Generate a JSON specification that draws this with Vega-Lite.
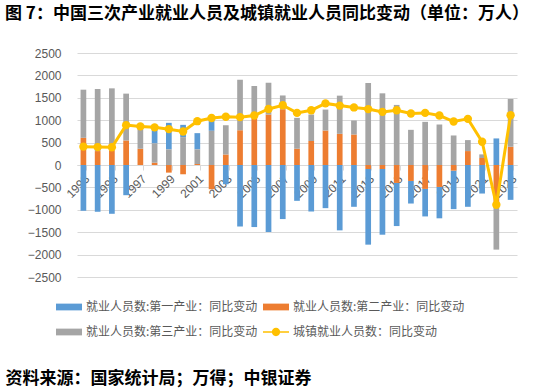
{
  "$schema": "https://vega.github.io/schema/vega-lite/v6.json",
  "background": "white",
  "padding": {"left": 5, "top": 5, "right": 5, "bottom": 5},
  "title": {"text": "图 7：中国三次产业就业人员及城镇就业人员同比变动（单位：万人）", "anchor": "start", "fontSize": 17, "fontWeight": "bold", "font": "Noto Sans CJK SC", "color": "#000000", "offset": 24},
  "width": 440,
  "height": 224,
  "datasets": {
    "emp": [
      {"year": 1993, "就业人员数:第一产业：同比变动": -1022, "就业人员数:第二产业：同比变动": 607, "就业人员数:第三产业：同比变动": 1074, "城镇就业人员数：同比变动": 410},
      {"year": 1994, "就业人员数:第一产业：同比变动": -1044, "就业人员数:第二产业：同比变动": 311, "就业人员数:第三产业：同比变动": 1385, "城镇就业人员数：同比变动": 400},
      {"year": 1995, "就业人员数:第一产业：同比变动": -1089, "就业人员数:第二产业：同比变动": 320, "就业人员数:第三产业：同比变动": 1391, "城镇就业人员数：同比变动": 397},
      {"year": 1996, "就业人员数:第一产业：同比变动": -674, "就业人员数:第二产业：同比变动": 548, "就业人员数:第三产业：同比变动": 1045, "城镇就业人员数：同比变动": 890},
      {"year": 1997, "就业人员数:第一产业：同比变动": 15, "就业人员数:第二产业：同比变动": 363, "就业人员数:第三产业：同比变动": 452, "城镇就业人员数：同比变动": 862},
      {"year": 1998, "就业人员数:第一产业：同比变动": 348, "就业人员数:第二产业：同比变动": 52, "就业人员数:第三产业：同比变动": 430, "城镇就业人员数：同比变动": 840},
      {"year": 1999, "就业人员数:第一产业：同比变动": 593, "就业人员数:第二产业：同比变动": -170, "就业人员数:第三产业：同比变动": 348, "城镇就业人员数：同比变动": 800},
      {"year": 2000, "就业人员数:第一产业：同比变动": 274, "就业人员数:第二产业：同比变动": -207, "就业人员数:第三产业：同比变动": 622, "城镇就业人员数：同比变动": 748},
      {"year": 2001, "就业人员数:第一产业：同比变动": 363, "就业人员数:第二产业：同比变动": 22, "就业人员数:第三产业：同比变动": 326, "城镇就业人员数：同比变动": 978},
      {"year": 2002, "就业人员数:第一产业：同比变动": 237, "就业人员数:第二产业：同比变动": -541, "就业人员数:第三产业：同比变动": 763, "城镇就业人员数：同比变动": 1050},
      {"year": 2003, "就业人员数:第一产业：同比变动": -430, "就业人员数:第二产业：同比变动": 237, "就业人员数:第三产业：同比变动": 652, "城镇就业人员数：同比变动": 1078},
      {"year": 2004, "就业人员数:第一产业：同比变动": -1370, "就业人员数:第二产业：同比变动": 778, "就业人员数:第三产业：同比变动": 1126, "城镇就业人员数：同比变动": 1068},
      {"year": 2005, "就业人员数:第一产业：同比变动": -1385, "就业人员数:第二产业：同比变动": 1030, "就业人员数:第三产业：同比变动": 733, "城镇就业人员数：同比变动": 1105},
      {"year": 2006, "就业人员数:第一产业：同比变动": -1496, "就业人员数:第二产业：同比变动": 1126, "就业人员数:第三产业：同比变动": 711, "城镇就业人员数：同比变动": 1250},
      {"year": 2007, "就业人员数:第一产业：同比变动": -1207, "就业人员数:第二产业：同比变动": 1245, "就业人员数:第三产业：同比变动": 307, "城镇就业人员数：同比变动": 1333},
      {"year": 2008, "就业人员数:第一产业：同比变动": -800, "就业人员数:第二产业：同比变动": 363, "就业人员数:第三产业：同比变动": 689, "城镇就业人员数：同比变动": 1163},
      {"year": 2009, "就业人员数:第一产业：同比变动": -1037, "就业人员数:第二产业：同比变动": 533, "就业人员数:第三产业：同比变动": 593, "城镇就业人员数：同比变动": 1222},
      {"year": 2010, "就业人员数:第一产业：同比变动": -963, "就业人员数:第二产业：同比变动": 770, "就业人员数:第三产业：同比变动": 467, "城镇就业人员数：同比变动": 1375},
      {"year": 2011, "就业人员数:第一产业：同比变动": -1459, "就业人员数:第二产业：同比变动": 696, "就业人员数:第三产业：同比变动": 852, "城镇就业人员数：同比变动": 1326},
      {"year": 2012, "就业人员数:第一产业：同比变动": -933, "就业人员数:第二产业：同比变动": 681, "就业人员数:第三产业：同比变动": 312, "城镇就业人员数：同比变动": 1285},
      {"year": 2013, "就业人员数:第一产业：同比变动": -1689, "就业人员数:第二产业：同比变动": -89, "就业人员数:第三产业：同比变动": 1830, "城镇就业人员数：同比变动": 1248},
      {"year": 2014, "就业人员数:第一产业：同比变动": -1467, "就业人员数:第二产业：同比变动": -89, "就业人员数:第三产业：同比变动": 1600, "城镇就业人员数：同比变动": 1185},
      {"year": 2015, "就业人员数:第一产业：同比变动": -963, "就业人员数:第二产业：同比变动": -400, "就业人员数:第三产业：同比变动": 1341, "城镇就业人员数：同比变动": 1222},
      {"year": 2016, "就业人员数:第一产业：同比变动": -504, "就业人员数:第二产业：同比变动": -356, "就业人员数:第三产业：同比变动": 785, "城镇就业人员数：同比变动": 1150},
      {"year": 2017, "就业人员数:第一产业：同比变动": -615, "就业人员数:第二产业：同比变动": -533, "就业人员数:第三产业：同比变动": 963, "城镇就业人员数：同比变动": 1163},
      {"year": 2018, "就业人员数:第一产业：同比变动": -700, "就业人员数:第二产业：同比变动": -490, "就业人员数:第三产业：同比变动": 904, "城镇就业人员数：同比变动": 1104},
      {"year": 2019, "就业人员数:第一产业：同比变动": -859, "就业人员数:第二产业：同比变动": -126, "就业人员数:第三产业：同比变动": 659, "城镇就业人员数：同比变动": 970},
      {"year": 2020, "就业人员数:第一产业：同比变动": -933, "就业人员数:第二产业：同比变动": 311, "就业人员数:第三产业：同比变动": 245, "城镇就业人员数：同比变动": 1030},
      {"year": 2021, "就业人员数:第一产业：同比变动": -637, "就业人员数:第二产业：同比变动": 156, "就业人员数:第三产业：同比变动": 81, "城镇就业人员数：同比变动": 519},
      {"year": 2022, "就业人员数:第一产业：同比变动": 593, "就业人员数:第二产业：同比变动": -874, "就业人员数:第三产业：同比变动": -1015, "城镇就业人员数：同比变动": -889},
      {"year": 2023, "就业人员数:第一产业：同比变动": -778, "就业人员数:第二产业：同比变动": 407, "就业人员数:第三产业：同比变动": 1067, "城镇就业人员数：同比变动": 1111}
    ]
  },
  "data": {"name": "emp"},
  "transform": [
    {"fold": ["就业人员数:第一产业：同比变动", "就业人员数:第二产业：同比变动", "就业人员数:第三产业：同比变动", "城镇就业人员数：同比变动"], "as": ["series", "value"]}
  ],
  "encoding": {
    "x": {
      "field": "year", "type": "ordinal", "title": "资料来源：国家统计局；万得；中银证券",
      "scale": {"paddingInner": 0.6, "paddingOuter": 0.25},
      "axis": {
        "values": [1993, 1995, 1997, 1999, 2001, 2003, 2005, 2007, 2009, 2011, 2013, 2015, 2017, 2019, 2021, 2023],
        "labelAngle": -45, "labelAlign": "right", "labelBaseline": "top", "labelOverlap": false,
        "offset": -112, "domain": true, "domainColor": "#D9D9D9",
        "ticks": true, "tickBand": "extent", "tickColor": "#D9D9D9", "tickSize": 5,
        "labelPadding": 3, "labelFontSize": 12, "labelColor": "#595959", "labelFont": "Liberation Sans", "grid": false,
        "titleX": -72, "titleY": 205, "titleAlign": "left", "titleBaseline": "top", "titleAnchor": "start",
        "titleFontSize": 17, "titleFontWeight": "bold", "titleFont": "Noto Sans CJK SC", "titleColor": "#000000"
      }
    }
  },
  "layer": [
    {
      "transform": [{"filter": "datum.series !== '城镇就业人员数：同比变动'"}],
      "mark": {"type": "bar"},
      "encoding": {
        "y": {
          "field": "value", "type": "quantitative", "stack": "zero", "title": null,
          "scale": {"domain": [-2500, 2500], "nice": false},
          "axis": {"values": [-2500, -2000, -1500, -1000, -500, 0, 500, 1000, 1500, 2000, 2500], "tickCount": 11, "format": "d", "labelOverlap": false, "domain": false, "ticks": false, "grid": true, "gridColor": "#D9D9D9", "labelPadding": 16, "labelFontSize": 12, "labelColor": "#595959", "labelFont": "Liberation Sans"}
        },
        "color": {
          "field": "series", "type": "nominal",
          "sort": ["就业人员数:第一产业：同比变动", "就业人员数:第二产业：同比变动", "就业人员数:第三产业：同比变动", "城镇就业人员数：同比变动"],
          "scale": {
            "domain": ["就业人员数:第一产业：同比变动", "就业人员数:第二产业：同比变动", "就业人员数:第三产业：同比变动", "城镇就业人员数：同比变动"],
            "range": ["#5B9BD5", "#ED7D31", "#A5A5A5", "#FFC000"]
          },
          "legend": {"title": null}
        }
      }
    },
    {
      "transform": [{"filter": "datum.series === '城镇就业人员数：同比变动'"}],
      "mark": {"type": "line", "strokeWidth": 3},
      "encoding": {
        "y": {"field": "value", "type": "quantitative"},
        "color": {"field": "series", "type": "nominal", "legend": {"title": null}}
      }
    },
    {
      "transform": [{"filter": "datum.series === '城镇就业人员数：同比变动'"}],
      "mark": {"type": "point", "filled": true, "size": 70, "opacity": 1},
      "encoding": {
        "y": {"field": "value", "type": "quantitative"},
        "color": {"field": "series", "type": "nominal", "legend": {"title": null}}
      }
    },
    {
      "transform": [{"filter": "datum.value > 999999"}],
      "mark": {"type": "point", "filled": true},
      "encoding": {
        "y": {"field": "value", "type": "quantitative"},
        "color": {"field": "series", "type": "nominal", "legend": {"title": null}},
        "shape": {
          "field": "series", "type": "nominal",
          "scale": {
            "domain": ["就业人员数:第一产业：同比变动", "就业人员数:第二产业：同比变动", "就业人员数:第三产业：同比变动", "城镇就业人员数：同比变动"],
            "range": ["M-1,-0.26H1V0.26H-1Z", "M-1,-0.26H1V0.26H-1Z", "M-1,-0.26H1V0.26H-1Z", "M-1,-0.06H1V0.06H-1Z M0.32,0A0.32,0.32 0 1,1 -0.32,0A0.32,0.32 0 1,1 0.32,0Z"]
          },
          "legend": {"title": null}
        }
      }
    }
  ],
  "config": {
    "view": {"stroke": null},
    "font": "Noto Sans CJK SC",
    "legend": {
      "orient": "none", "legendX": -21, "legendY": 241, "direction": "horizontal", "columns": 2,
      "symbolSize": 676, "symbolStrokeWidth": 0, "symbolOpacity": 1,
      "labelFontSize": 12, "labelColor": "#595959", "labelFont": "Noto Sans CJK SC", "labelLimit": 300,
      "rowPadding": 6, "columnPadding": 5, "labelOffset": 4
    }
  }
}
